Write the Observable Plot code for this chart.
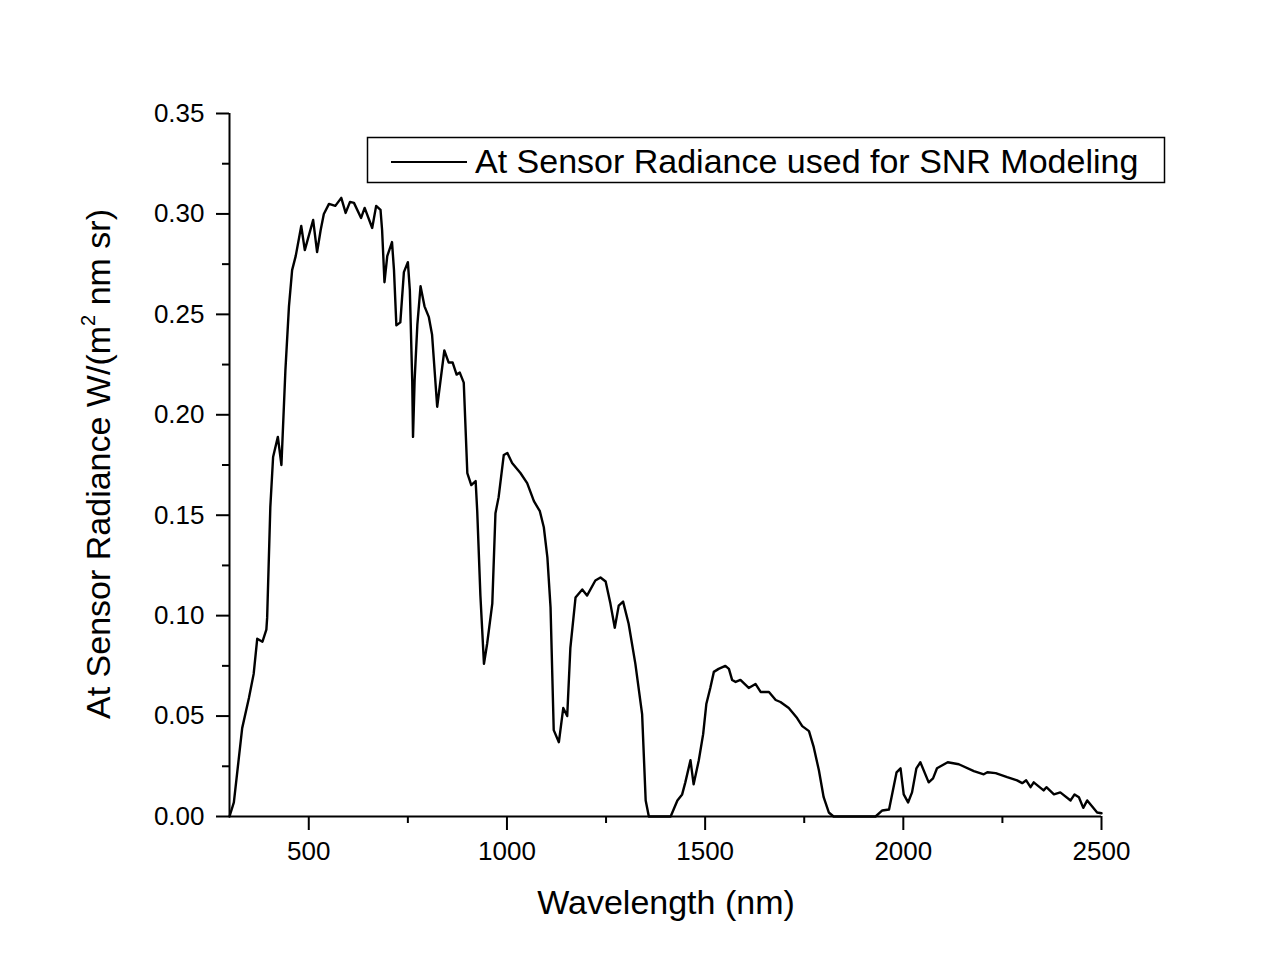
<!DOCTYPE html>
<html>
<head>
<meta charset="utf-8">
<script src="https://cdn.jsdelivr.net/npm/d3@7"></script>
<script src="https://cdn.jsdelivr.net/npm/@observablehq/plot@0.6"></script>
<style>
  html, body { margin: 0; padding: 0; background: #fff; }
  #chart svg { display: block; }
</style>
</head>
<body>
<div id="chart"></div>
<script>
const wavelength = [
  300, 311, 332, 349, 361, 370, 383, 393, 395, 403, 410, 422, 431, 441, 450, 458, 467, 481, 490, 511,
  521, 530, 538, 551, 567, 582, 593, 604, 614, 632, 641, 660, 670, 681, 685, 691, 698, 710, 715, 721,
  731, 740, 750, 755, 761, 763, 767, 774, 782, 792, 803, 811, 824, 842, 853, 863, 873, 881, 891, 900,
  910, 921, 925, 933, 942, 950, 963, 971, 979, 992, 1001, 1013, 1034, 1051, 1068, 1083, 1093, 1102, 1110, 1118,
  1131, 1142, 1152, 1160, 1173, 1190, 1202, 1223, 1236, 1249, 1261, 1272, 1282, 1293, 1307, 1324, 1341, 1350, 1358, 1413,
  1430, 1442, 1450, 1463, 1471, 1484, 1495, 1503, 1513, 1522, 1534, 1551, 1560, 1568, 1577, 1589, 1610, 1627, 1640, 1661,
  1678, 1690, 1711, 1732, 1745, 1762, 1774, 1787, 1799, 1812, 1824, 1930, 1947, 1964, 1983, 1993, 2001, 2012, 2022, 2033,
  2043, 2064, 2075, 2085, 2112, 2140, 2178, 2203, 2212, 2233, 2262, 2287, 2300, 2310, 2321, 2329, 2354, 2361, 2380, 2396,
  2422, 2432, 2443, 2454, 2464, 2489, 2500
];
const radiance = [
  0, 0.007, 0.044, 0.059, 0.071, 0.0885, 0.087, 0.093, 0.099, 0.154, 0.179, 0.189, 0.175, 0.222, 0.254, 0.272, 0.279, 0.294, 0.282, 0.297,
  0.281, 0.292, 0.300, 0.305, 0.304, 0.308, 0.3005, 0.306, 0.3055, 0.298, 0.303, 0.293, 0.304, 0.302, 0.292, 0.266, 0.279, 0.286, 0.272, 0.2445,
  0.246, 0.271, 0.276, 0.262, 0.217, 0.189, 0.217, 0.245, 0.264, 0.254, 0.2486, 0.240, 0.204, 0.232, 0.226, 0.226, 0.220, 0.221, 0.216, 0.171,
  0.165, 0.167, 0.152, 0.11, 0.076, 0.086, 0.106, 0.151, 0.159, 0.180, 0.181, 0.176, 0.171, 0.166, 0.157, 0.152, 0.144, 0.129, 0.104, 0.043,
  0.037, 0.054, 0.050, 0.084, 0.109, 0.113, 0.110, 0.1175, 0.119, 0.117, 0.106, 0.094, 0.105, 0.107, 0.096, 0.076, 0.051, 0.008, 0, 0,
  0.008, 0.011, 0.017, 0.028, 0.016, 0.028, 0.041, 0.056, 0.064, 0.072, 0.0735, 0.075, 0.0735, 0.068, 0.067, 0.068, 0.064, 0.066, 0.062, 0.062,
  0.058, 0.057, 0.054, 0.049, 0.045, 0.0425, 0.0345, 0.023, 0.0096, 0.002, 0, 0, 0.003, 0.0035, 0.022, 0.024, 0.011, 0.007, 0.012, 0.024,
  0.027, 0.017, 0.019, 0.024, 0.027, 0.026, 0.0226, 0.021, 0.022, 0.0216, 0.0196, 0.018, 0.0166, 0.018, 0.0146, 0.017, 0.013, 0.0146, 0.011, 0.012,
  0.008, 0.011, 0.0096, 0.0043, 0.008, 0.002, 0.0016
];
const xTicks = [500, 1000, 1500, 2000, 2500];
const xMinorTicks = [750, 1250, 1750, 2250];
const yTicks = [0, 0.05, 0.10, 0.15, 0.20, 0.25, 0.30, 0.35];
const yMinorTicks = [0.025, 0.075, 0.125, 0.175, 0.225, 0.275, 0.325];
const xTitle = "Wavelength (nm)";
const yTitleParts = ["At Sensor Radiance W/(m", "2", " nm sr)"];
const legendLabel = "At Sensor Radiance used for SNR Modeling";

const data = wavelength.map((w, i) => ({w, r: radiance[i]}));
const FONT = "'Liberation Sans', Arial, sans-serif";

const plot = Plot.plot({
  width: 1280,
  height: 979,
  marginTop: 113,
  marginRight: 179,
  marginBottom: 163,
  marginLeft: 229,
  style: {fontFamily: FONT, background: "#fff", color: "#000"},
  x: {domain: [300, 2500]},
  y: {domain: [0, 0.35]},
  marks: [
    Plot.axisX(xTicks, {tickSize: 14, tickPadding: 11, fontSize: 26, strokeWidth: 2, label: null, tickFormat: d => String(d)}),
    Plot.axisX(xMinorTicks, {tickSize: 7, strokeWidth: 2, label: null, tickFormat: () => ""}),
    Plot.axisY(yTicks, {tickSize: 13, tickPadding: 12, fontSize: 26, strokeWidth: 2, label: null, tickFormat: d3.format(".2f")}),
    Plot.axisY(yMinorTicks, {tickSize: 7, strokeWidth: 2, label: null, tickFormat: () => ""}),
    Plot.ruleX([300], {stroke: "#000", strokeWidth: 2}),
    Plot.ruleY([0], {stroke: "#000", strokeWidth: 2}),
    Plot.line(data, {x: "w", y: "r", stroke: "#000", strokeWidth: 2.4, strokeLinejoin: "round"})
  ]
});

document.getElementById("chart").appendChild(plot);

const svg = d3.select(plot);

// Axis titles
svg.append("text")
  .attr("x", 666).attr("y", 914)
  .attr("text-anchor", "middle")
  .attr("font-family", FONT).attr("font-size", 34).attr("fill", "#000")
  .text(xTitle);

const yt = svg.append("text")
  .attr("transform", "translate(110,464) rotate(-90)")
  .attr("text-anchor", "middle")
  .attr("font-family", FONT).attr("font-size", 34).attr("fill", "#000");
yt.append("tspan").text(yTitleParts[0]);
yt.append("tspan").attr("font-size", 20).attr("dy", -15).text(yTitleParts[1]);
yt.append("tspan").attr("dy", 15).text(yTitleParts[2]);

// Legend
const lg = svg.append("g");
lg.append("rect").attr("x", 367.5).attr("y", 137.5).attr("width", 797).attr("height", 45)
  .attr("fill", "#fff").attr("stroke", "#000").attr("stroke-width", 1.5);
lg.append("line").attr("x1", 391).attr("x2", 467).attr("y1", 162).attr("y2", 162)
  .attr("stroke", "#000").attr("stroke-width", 2);
lg.append("text").attr("x", 475).attr("y", 173)
  .attr("text-anchor", "start")
  .attr("font-family", FONT).attr("font-size", 34).attr("fill", "#000")
  .text(legendLabel);
</script>
</body>
</html>
